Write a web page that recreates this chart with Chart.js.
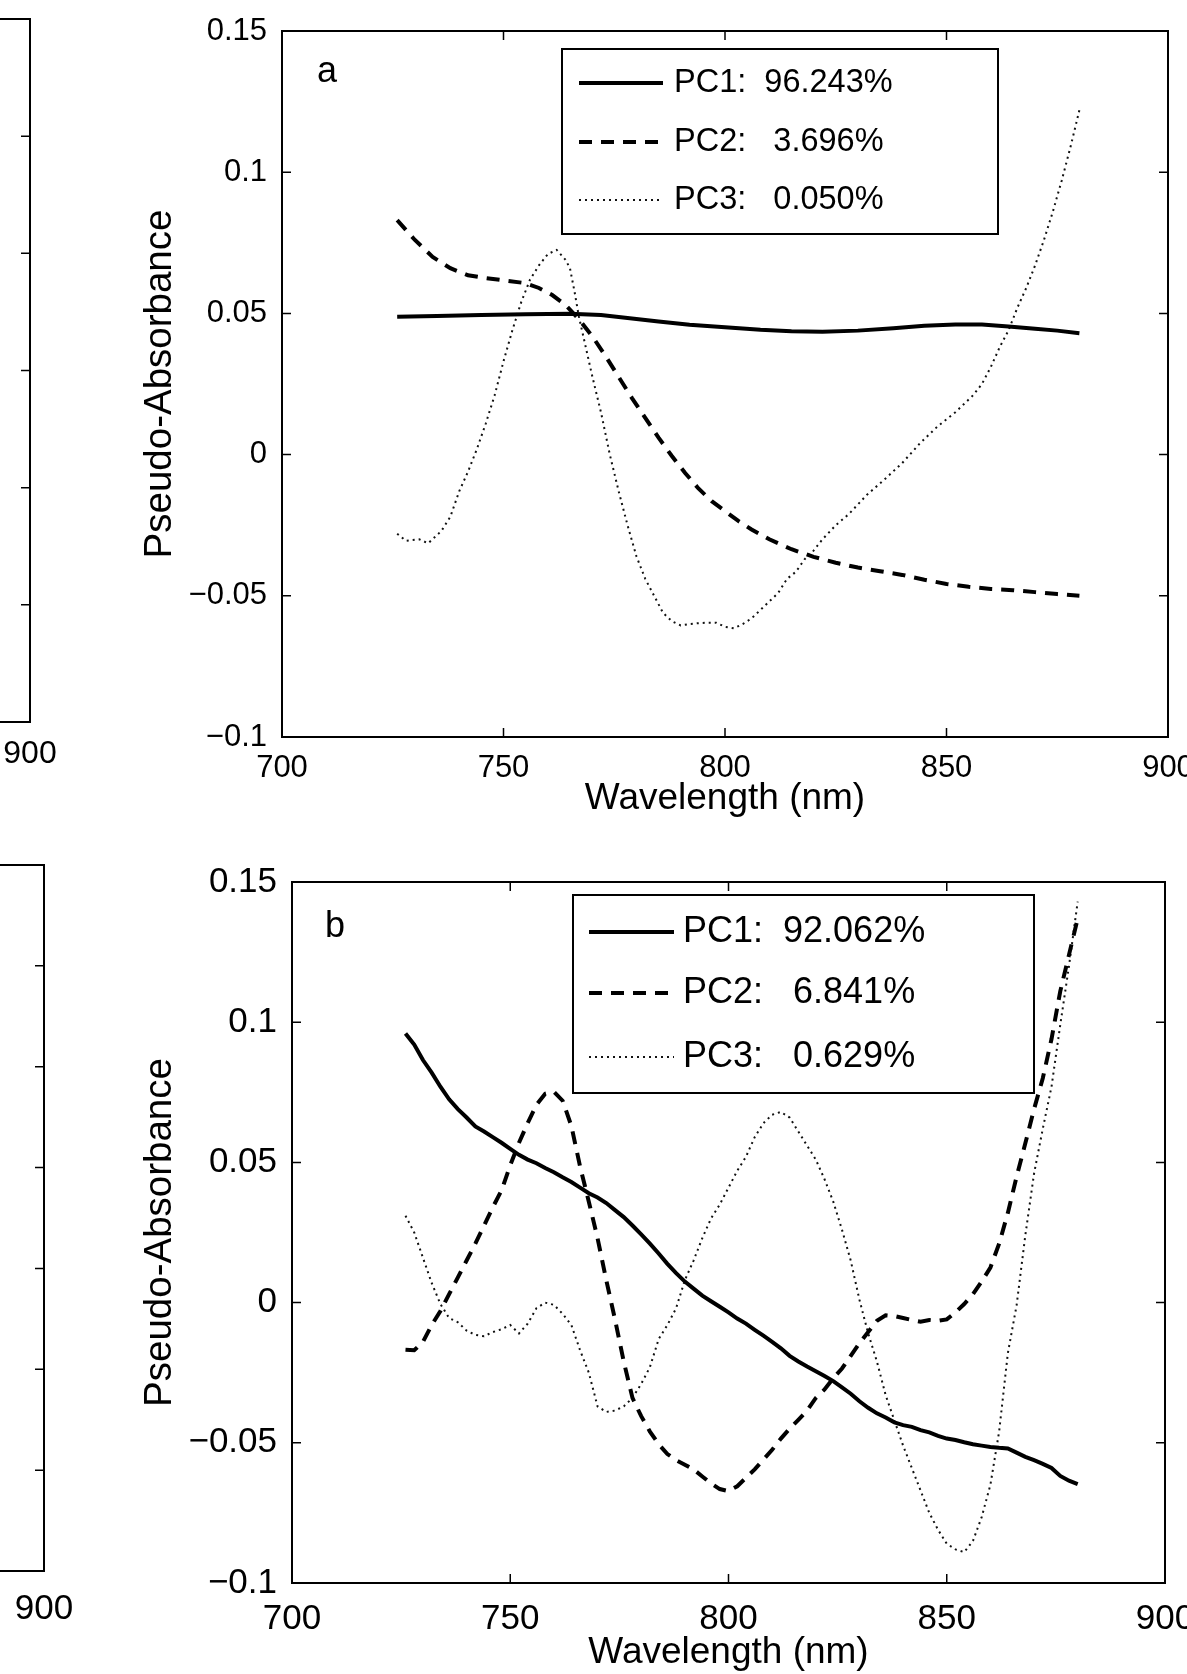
<!DOCTYPE html>
<html>
<head>
<meta charset="utf-8">
<title>PCA loadings</title>
<script src="https://cdn.jsdelivr.net/npm/chart.js@4.4.1/dist/chart.umd.min.js"></script>
<style>
  html, body { margin: 0; padding: 0; background: #fff; }
  body { position: relative; width: 1187px; height: 1674px; overflow: hidden; }
  canvas { position: absolute; }
</style>
</head>
<body>
<canvas id="canvas-left-a" width="1000" height="790" style="left:-930px; top:0px;"></canvas>
<canvas id="canvas-left-b" width="1000" height="834" style="left:-916px; top:840px;"></canvas>
<canvas id="canvas-a" width="1260" height="840" style="left:0px; top:0px;"></canvas>
<canvas id="canvas-b" width="1260" height="840" style="left:0px; top:840px;"></canvas>
<script>
// ---- data ----
const xTicks = [700, 750, 800, 850, 900];
const yTicks = [-0.1, -0.05, 0, 0.05, 0.1, 0.15];

// panel a
const aVariance = ['96.243', '3.696', '0.050'];
const aPC1Wl = [726, 735, 745, 755, 765, 772, 778, 785, 792, 800, 808, 815, 822, 830, 838, 845, 852, 858, 864, 870, 875, 880];
const aPC1 = [0.0488, 0.0491, 0.0494, 0.0497, 0.0499, 0.0494, 0.0484, 0.0471, 0.0460, 0.0451, 0.0442, 0.0437, 0.0435, 0.0439, 0.0447, 0.0456, 0.0461, 0.0461, 0.0454, 0.0446, 0.0439, 0.0430];
const aPC2Wl = [726, 730, 734, 738, 742, 746, 750, 755, 758, 761, 764, 767, 770, 773, 776, 779, 782, 785, 788, 791,
                794, 797, 800, 803, 806, 810, 815, 820, 825, 830, 835, 840, 845, 850, 855, 860, 865, 870, 875, 880];
const aPC2 = [0.083, 0.076, 0.070, 0.066, 0.0635, 0.0625, 0.0617, 0.0607, 0.059, 0.0565, 0.053, 0.048, 0.042, 0.035, 0.0275, 0.020, 0.013, 0.006, -0.0005, -0.0065,
              -0.012, -0.0165, -0.020, -0.0235, -0.0265, -0.030, -0.0335, -0.0362, -0.0383, -0.0400, -0.0413, -0.0426, -0.0443, -0.0458, -0.0468, -0.0476, -0.0480, -0.0487, -0.0494, -0.0500];
const aPC3Wl = [726, 728, 731, 733, 736, 738, 740, 742, 744, 746, 748, 750, 752, 754, 756, 758, 760, 762, 764, 765,
                766, 767, 768, 770, 772, 774, 776, 778, 780, 782, 784, 786, 788, 790, 792, 794, 796, 798, 800, 802,
                804, 806, 808, 810, 812, 814, 816, 818, 820, 822, 825, 828, 832, 836, 840, 844, 848, 852, 856, 858,
                860, 862, 864, 866, 868, 870, 872, 874, 876, 878, 880];
const aPC3 = [-0.028, -0.0305, -0.030, -0.0314, -0.027, -0.022, -0.013, -0.006, 0.002, 0.011, 0.021, 0.033, 0.044, 0.054, 0.062, 0.067, 0.071, 0.0725, 0.069, 0.066,
              0.058, 0.049, 0.042, 0.028, 0.015, 0.000, -0.013, -0.025, -0.036, -0.044, -0.050, -0.056, -0.059, -0.0605, -0.060, -0.0597, -0.0595, -0.0595, -0.061, -0.0615,
              -0.060, -0.058, -0.055, -0.052, -0.049, -0.044, -0.0415, -0.037, -0.034, -0.030, -0.025, -0.021, -0.0143, -0.0088, -0.003, 0.004, 0.010, 0.015, 0.021, 0.025,
              0.031, 0.038, 0.044, 0.052, 0.059, 0.067, 0.076, 0.086, 0.097, 0.109, 0.122];

// panel b (all three series on the same 2 nm grid)
const bVariance = ['92.062', '6.841', '0.629'];
const bWl = [726, 728, 730, 732, 734, 736, 738, 740, 742, 744, 746, 748, 750, 752, 754, 756, 758, 760, 762, 764,
             766, 768, 770, 772, 774, 776, 778, 780, 782, 784, 786, 788, 790, 792, 794, 796, 798, 800, 802, 804,
             806, 808, 810, 812, 814, 816, 818, 820, 822, 824, 826, 828, 830, 832, 834, 836, 838, 840, 842, 844,
             846, 848, 850, 852, 854, 856, 858, 860, 862, 864, 866, 868, 870, 872, 874, 876, 878, 880];
const bPC1 = [0.096, 0.092, 0.0865, 0.082, 0.077, 0.0725, 0.069, 0.066, 0.0628, 0.061, 0.059, 0.057, 0.0548, 0.0527, 0.051, 0.0497, 0.048, 0.0465, 0.0447, 0.043,
              0.041, 0.039, 0.0375, 0.0355, 0.033, 0.0305, 0.0275, 0.0243, 0.021, 0.0175, 0.0138, 0.0105, 0.0075, 0.005, 0.0025, 0.0005, -0.0015, -0.0035, -0.0057, -0.0075,
              -0.0097, -0.0118, -0.014, -0.0163, -0.019, -0.021, -0.0228, -0.0245, -0.0262, -0.028, -0.0302, -0.0325, -0.0352, -0.0375, -0.0395, -0.041, -0.0427, -0.0437, -0.0443, -0.0455,
              -0.0463, -0.0475, -0.0485, -0.049, -0.0498, -0.0505, -0.051, -0.0515, -0.0518, -0.052, -0.0535, -0.055, -0.0562, -0.0575, -0.059, -0.0618, -0.0635, -0.0647];
const bPC2 = [-0.0168, -0.017, -0.014, -0.008, -0.003, 0.003, 0.009, 0.015, 0.021, 0.0275, 0.034, 0.040, 0.049, 0.057, 0.064, 0.0705, 0.0745, 0.0752, 0.072, 0.063,
              0.0485, 0.036, 0.023, 0.008, -0.006, -0.021, -0.034, -0.0405, -0.046, -0.0505, -0.054, -0.0562, -0.0578, -0.0595, -0.062, -0.0645, -0.0665, -0.0672, -0.0655, -0.0625,
              -0.0595, -0.056, -0.0525, -0.0485, -0.045, -0.0418, -0.0385, -0.034, -0.031, -0.027, -0.0235, -0.019, -0.0145, -0.0105, -0.0065, -0.0045, -0.0048, -0.0055, -0.0062, -0.0068,
              -0.0062, -0.0065, -0.006, -0.0035, -0.0005, 0.003, 0.0075, 0.0125, 0.021, 0.032, 0.0449, 0.0568, 0.069, 0.080, 0.094, 0.111, 0.124, 0.137];
const bPC3 = [0.031, 0.025, 0.016, 0.007, -0.0005, -0.0055, -0.007, -0.010, -0.0115, -0.012, -0.0105, -0.0095, -0.008, -0.011, -0.0075, -0.002, 0.000, -0.0008, -0.004, -0.008,
              -0.017, -0.025, -0.037, -0.039, -0.0385, -0.037, -0.034, -0.029, -0.023, -0.013, -0.008, -0.002, 0.008, 0.015, 0.023, 0.030, 0.035, 0.041, 0.047, 0.052,
              0.059, 0.064, 0.067, 0.068, 0.066, 0.061, 0.056, 0.051, 0.044, 0.036, 0.026, 0.015, 0.001, -0.011, -0.021, -0.033, -0.042, -0.051, -0.059, -0.067,
              -0.075, -0.081, -0.086, -0.088, -0.089, -0.085, -0.0765, -0.065, -0.046, -0.018, -0.001, 0.024, 0.046, 0.062, 0.077, 0.099, 0.120, 0.143];

// ---- styling ----
const FONT = "'Liberation Sans', Arial, Helvetica, sans-serif";
const lineStyles = [
    { borderColor: '#000', borderWidth: 4, borderDash: [] },        // PC1 solid
    { borderColor: '#000', borderWidth: 4, borderDash: [13, 9] },   // PC2 dashed
    { borderColor: '#111', borderWidth: 2, borderDash: [2, 4] }     // PC3 dotted
];

function zip(wl, vals) {
    return wl.map((w, i) => ({ x: w, y: vals[i] }));
}

function pcLabel(i, v) {
    return 'PC' + (i + 1) + ':  ' + v.padStart(6, ' ') + '%';
}

function fmtY(v) {
    const r = Math.round(v * 100) / 100;
    if (r === 0) return '0';
    return (r < 0 ? '\u2212' : '') + String(Math.abs(r));
}

// MATLAB-like box with inward ticks, panel letter and legend
const matlabFrame = {
    id: 'matlabFrame',
    afterDatasetsDraw(chart, args, o) {
        const { ctx, chartArea: ca } = chart;
        ctx.save();
        if (o.letter) {
            ctx.font = o.letter.size + 'px ' + FONT;
            ctx.fillStyle = '#000';
            ctx.textBaseline = 'alphabetic';
            ctx.fillText(o.letter.text, ca.left + o.letter.dx, ca.top + o.letter.dy);
        }
        if (o.legend) {
            const L = o.legend;
            const bx = ca.left + L.dx, by = ca.top + L.dy;
            ctx.fillStyle = '#fff';
            ctx.fillRect(bx, by, L.w, L.h);
            ctx.lineWidth = 2;
            ctx.strokeStyle = '#000';
            ctx.strokeRect(bx, by, L.w, L.h);
            ctx.font = L.size + 'px ' + FONT;
            ctx.textBaseline = 'middle';
            chart.data.datasets.forEach((ds, i) => {
                const yy = by + L.rows[i];
                ctx.setLineDash(ds.borderDash || []);
                ctx.lineWidth = ds.borderWidth;
                ctx.strokeStyle = ds.borderColor;
                ctx.beginPath();
                ctx.moveTo(bx + L.x0, yy);
                ctx.lineTo(bx + L.x1, yy);
                ctx.stroke();
                ctx.setLineDash([]);
                ctx.fillStyle = '#000';
                ctx.fillText(ds.label, bx + L.tx, yy);
            });
        }
        ctx.restore();
    },
    afterDraw(chart, args, o) {
        const { ctx, chartArea: ca, scales: { x, y } } = chart;
        const len = o.tickLen || 9;
        ctx.save();
        ctx.strokeStyle = '#000';
        ctx.lineWidth = 1.5;
        ctx.beginPath();
        x.ticks.forEach(t => {
            const px = x.getPixelForValue(t.value);
            ctx.moveTo(px, ca.bottom); ctx.lineTo(px, ca.bottom - len);
            ctx.moveTo(px, ca.top); ctx.lineTo(px, ca.top + len);
        });
        y.ticks.forEach(t => {
            const py = y.getPixelForValue(t.value);
            ctx.moveTo(ca.left, py); ctx.lineTo(ca.left + len, py);
            ctx.moveTo(ca.right, py); ctx.lineTo(ca.right - len, py);
        });
        ctx.stroke();
        ctx.lineWidth = 2;
        ctx.strokeRect(ca.left, ca.top, ca.right - ca.left, ca.bottom - ca.top);
        ctx.restore();
    }
};

function makeChart(canvasId, datasets, p) {
    const ctx = document.getElementById(canvasId).getContext('2d');
    return new Chart(ctx, {
        type: 'line',
        data: { datasets: datasets },
        plugins: [matlabFrame],
        options: {
            responsive: false,
            animation: false,
            events: [],
            layout: { padding: p.padding },
            elements: { point: { radius: 0 }, line: { tension: 0, borderCapStyle: 'butt' } },
            plugins: {
                legend: { display: false },
                tooltip: { enabled: false },
                matlabFrame: { letter: p.letter, legend: p.legend, tickLen: 9 }
            },
            scales: {
                x: {
                    type: 'linear',
                    min: xTicks[0],
                    max: xTicks[xTicks.length - 1],
                    grid: { display: false },
                    border: { display: false },
                    ticks: {
                        stepSize: xTicks[1] - xTicks[0],
                        autoSkip: false,
                        maxRotation: 0,
                        padding: p.xPad,
                        color: '#000',
                        font: { family: FONT, size: p.tickSize },
                        callback: v => String(v)
                    },
                    title: {
                        display: !!p.xTitle,
                        text: p.xTitle || '',
                        color: '#000',
                        padding: 0,
                        font: { family: FONT, size: p.xTitleSize || 12 }
                    },
                    afterFit: s => { s.height = p.xHeight; }
                },
                y: {
                    type: 'linear',
                    min: p.yMin,
                    max: p.yMax,
                    grid: { display: false },
                    border: { display: false },
                    ticks: {
                        display: p.yLabels,
                        stepSize: p.yStep,
                        autoSkip: false,
                        padding: p.yPad || 0,
                        color: '#000',
                        font: { family: FONT, size: p.tickSize },
                        callback: v => fmtY(v)
                    },
                    title: {
                        display: !!p.yTitle,
                        text: p.yTitle || '',
                        color: '#000',
                        padding: 0,
                        font: { family: FONT, size: p.yTitleSize || 12 }
                    },
                    afterFit: s => { s.width = p.yWidth; }
                }
            }
        }
    });
}

function pcDatasets(series, variance) {
    return series.map((pts, i) => Object.assign({
        label: pcLabel(i, variance[i]),
        data: pts,
        fill: false,
        pointRadius: 0
    }, lineStyles[i]));
}

// ---- partial panels cut off at the left edge ----
makeChart('canvas-left-a', [], {
    padding: { left: 0, top: 19, right: 40, bottom: 8 },
    yWidth: 0, xHeight: 60, tickSize: 32, xPad: 5,
    yMin: 0, yMax: 6, yStep: 1, yLabels: false
});
makeChart('canvas-left-b', [], {
    padding: { left: 0, top: 25, right: 40, bottom: 33 },
    yWidth: 0, xHeight: 70, tickSize: 35, xPad: 9,
    yMin: 0, yMax: 7, yStep: 1, yLabels: false
});

// ---- panel a ----
makeChart('canvas-a', pcDatasets([zip(aPC1Wl, aPC1), zip(aPC2Wl, aPC2), zip(aPC3Wl, aPC3)], aVariance), {
    padding: { left: 137, top: 31, right: 92, bottom: 19.5 },
    yWidth: 145, xHeight: 83.5, tickSize: 31, xTitleSize: 37, yTitleSize: 38.5, xPad: 5, yPad: 7,
    yMin: yTicks[0], yMax: yTicks[yTicks.length - 1], yStep: 0.05, yLabels: true,
    xTitle: 'Wavelength (nm)', yTitle: 'Pseudo-Absorbance',
    letter: { text: 'a', dx: 35, dy: 51, size: 36 },
    legend: { dx: 280, dy: 18, w: 436, h: 185, rows: [34, 93, 151], x0: 17, x1: 101, tx: 112, size: 32.5 }
});

// ---- panel b ----
makeChart('canvas-b', pcDatasets([zip(bWl, bPC1), zip(bWl, bPC2), zip(bWl, bPC3)], bVariance), {
    padding: { left: 137, top: 42, right: 95, bottom: 5.5 },
    yWidth: 155, xHeight: 91.5, tickSize: 35, xTitleSize: 37, yTitleSize: 38.5, xPad: 7, yPad: 7,
    yMin: yTicks[0], yMax: yTicks[yTicks.length - 1], yStep: 0.05, yLabels: true,
    xTitle: 'Wavelength (nm)', yTitle: 'Pseudo-Absorbance',
    letter: { text: 'b', dx: 33, dy: 55, size: 36 },
    legend: { dx: 281, dy: 13, w: 461, h: 198, rows: [37, 98, 162], x0: 16, x1: 101, tx: 110, size: 36 }
});
</script>
</body>
</html>
